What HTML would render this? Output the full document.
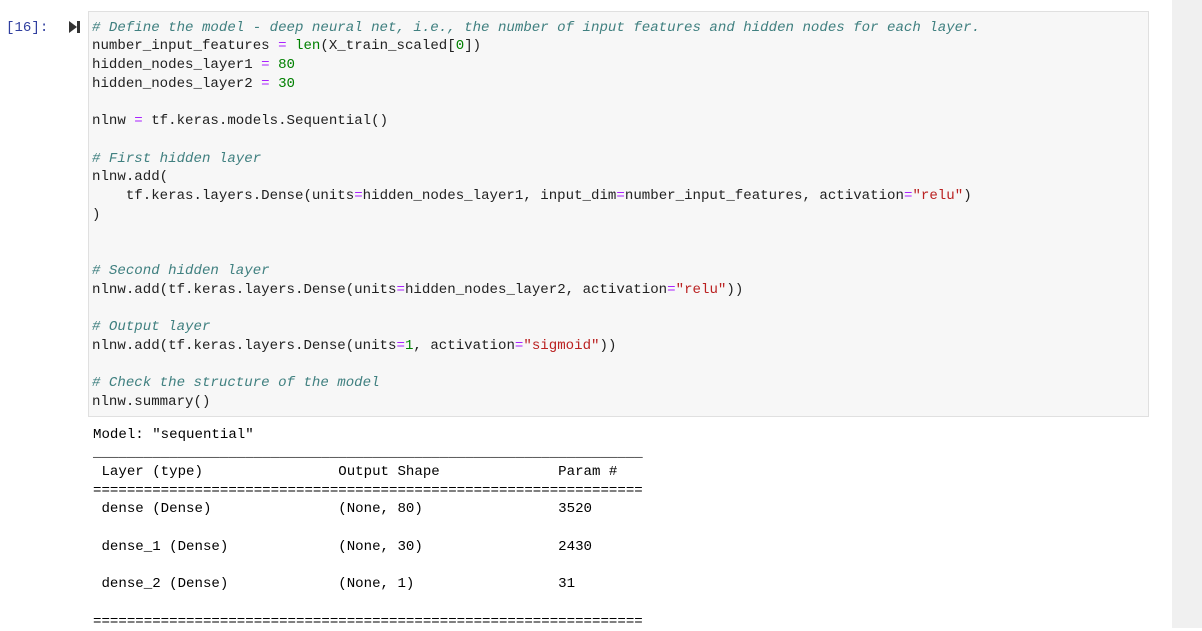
<!DOCTYPE html>
<html><head><style>
body{margin:0;width:1202px;height:628px;background:#fff;position:relative;overflow:hidden;font-family:"Liberation Mono",monospace;}
.sb{position:absolute;left:1172px;top:0;width:30px;height:628px;background:#f0f0f0;}
.prompt{position:absolute;left:6px;top:19px;font-size:14.1px;color:#303f9f;line-height:18.7px;}
.run{position:absolute;left:69px;top:21px;}
.cell{position:absolute;left:88px;top:11px;width:1059px;height:404px;background:#f7f7f7;border:1px solid #e0e0e0;}
pre{margin:0;font-family:"Liberation Mono",monospace;font-size:14.1px;line-height:18.72px;color:#212121;}
.code{position:absolute;left:92px;top:18.5px;}
.out{position:absolute;left:93px;top:425.5px;color:#000;}
.c{color:#408080;font-style:italic}
.o{color:#aa22ff}
.n{color:#008000}
.s{color:#ba2121}
</style></head><body>
<div class="sb"></div>
<div class="prompt">[16]:</div>
<svg class="run" width="12" height="12" viewBox="0 0 12 12"><polygon points="0,0 8,6 0,12" fill="#333"/><rect x="8" y="0" width="3" height="12" fill="#333"/></svg>
<div class="cell"></div>
<pre class="code"><span class="c"># Define the model - deep neural net, i.e., the number of input features and hidden nodes for each layer.</span>
number_input_features <span class="o">=</span> <span class="n">len</span>(X_train_scaled[<span class="n">0</span>])
hidden_nodes_layer1 <span class="o">=</span> <span class="n">80</span>
hidden_nodes_layer2 <span class="o">=</span> <span class="n">30</span>

nlnw <span class="o">=</span> tf.keras.models.Sequential()

<span class="c"># First hidden layer</span>
nlnw.add(
    tf.keras.layers.Dense(units<span class="o">=</span>hidden_nodes_layer1, input_dim<span class="o">=</span>number_input_features, activation<span class="o">=</span><span class="s">"relu"</span>)
)


<span class="c"># Second hidden layer</span>
nlnw.add(tf.keras.layers.Dense(units<span class="o">=</span>hidden_nodes_layer2, activation<span class="o">=</span><span class="s">"relu"</span>))

<span class="c"># Output layer</span>
nlnw.add(tf.keras.layers.Dense(units<span class="o">=</span><span class="n">1</span>, activation<span class="o">=</span><span class="s">"sigmoid"</span>))

<span class="c"># Check the structure of the model</span>
nlnw.summary()</pre>
<pre class="out">Model: "sequential"
_________________________________________________________________
 Layer (type)                Output Shape              Param #   
=================================================================
 dense (Dense)               (None, 80)                3520      
                                                                 
 dense_1 (Dense)             (None, 30)                2430      
                                                                 
 dense_2 (Dense)             (None, 1)                 31        
                                                                 
=================================================================</pre>
</body></html>
